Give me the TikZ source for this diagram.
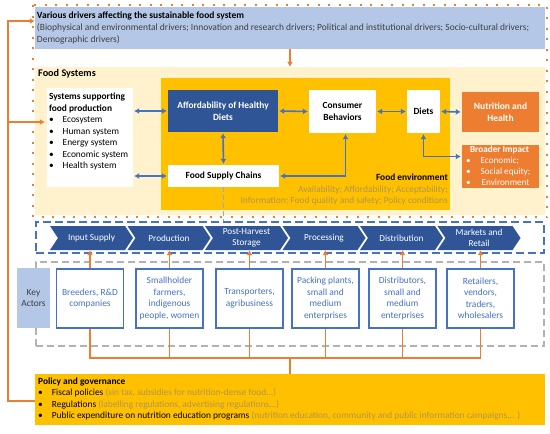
\documentclass[tikz,border=0pt]{standalone}
\usepackage{fontspec}
\setmainfont{Carlito}
\usetikzlibrary{shapes.symbols,arrows.meta}
\definecolor{dblue}{HTML}{2F5597}
\definecolor{mblue}{HTML}{4472C4}
\definecolor{lblue}{HTML}{B4C7E7}
\definecolor{gold}{HTML}{FFC000}
\definecolor{cream}{HTML}{FFF2CC}
\definecolor{orng}{HTML}{ED7D31}
\definecolor{txtgray}{HTML}{B0964E}
\definecolor{dgray}{HTML}{404040}
\newcommand{\fs}{\fontsize{9.4}{11.5}\selectfont}
\tikzset{
	box/.style={rectangle, inner sep=0pt, align=center, font=\fs},
	barrow/.style={mblue, line width=1.6pt, {Latex[length=5pt,width=6pt]}-{Latex[length=5pt,width=6pt]}, shorten <=1pt, shorten >=1pt},
	oarrow/.style={orng, line width=1.6pt, -{Latex[length=5pt,width=6pt]}},
	oline/.style={orng, line width=1.6pt},
	chev/.style={signal, signal to=east, signal from=west, signal pointer angle=113, fill=dblue, text=white, inner sep=0pt, minimum width=83pt, minimum height=24pt, align=center, font=\fontsize{9.2}{11}\selectfont},
	actor/.style={box, draw=mblue, line width=1.2pt, fill=white, text=mblue, minimum width=67pt, minimum height=59pt},
	whitebox/.style={box, fill=white, font=\fs\bfseries}
}
\begin{document}
\begin{tikzpicture}[x=1pt, y=-1pt]
		\useasboundingbox (0,0) rectangle (550,434);
		\node[box, fill=lblue, minimum width=510pt, minimum height=42pt] (drivers) at (290,28) {};
		\node[anchor=north west, align=left, inner sep=0pt, font=\fontsize{9.5}{12}\selectfont, text=dgray] at ([shift={(2pt,-5pt)}]drivers.north west) {\textbf{\color{black}Various drivers affecting the sustainable food system}\\(Biophysical and environmental drivers; Innovation and research drivers; Political and institutional drivers; Socio-cultural drivers;\\Demographic drivers)};
		\node[box, fill=cream, minimum width=510pt, minimum height=148pt] (foodsys) at (290,141) {};
		\node[anchor=north west, inner sep=0pt, font=\fontsize{10.2}{12}\selectfont\bfseries] at (38,69) {Food Systems};
		\draw[orng, line width=2pt, dash pattern=on 2pt off 8.5pt] (33,5) rectangle (547,217);
		\draw[oarrow] (drivers.south) -- (drivers.south |- foodsys.north);
		\node[box, fill=gold, minimum width=289pt, minimum height=132pt] (foodenv) at (305.5,144) {};
		\node[box, fill=white, minimum width=86pt, minimum height=99pt] (sys) at (90,137.5) {};
		\node[anchor=north west, align=left, inner sep=0pt, font=\fs] at ([shift={(2pt,-5pt)}]sys.north west) {\textbf{Systems supporting}\\\textbf{food production}\\\textbullet\hspace{9pt}Ecosystem\\\textbullet\hspace{9pt}Human system\\\textbullet\hspace{9pt}Energy system\\\textbullet\hspace{9pt}Economic system\\\textbullet\hspace{9pt}Health system};
		\node[box, fill=dblue, text=white, font=\fs\bfseries, minimum width=110pt, minimum height=42pt] (aff) at (223,111) {Affordability of Healthy\\Diets};
		\node[whitebox, minimum width=111pt, minimum height=22pt] (fsc) at (223.5,176) {Food Supply Chains};
		\node[whitebox, minimum width=67pt, minimum height=43pt] (cons) at (342.5,111.5) {Consumer\\Behaviors};
		\node[whitebox, minimum width=33pt, minimum height=43pt] (diets) at (423.5,111.5) {Diets};
		\node[box, fill=orng, text=white, font=\fontsize{9.5}{11.5}\selectfont\bfseries, minimum width=77pt, minimum height=40pt] (nutr) at (500.5,112) {Nutrition and\\Health};
		\node[box, fill=orng, minimum width=77pt, minimum height=43pt] (broad) at (500.5,166.5) {};
		\node[anchor=north west, align=left, inner sep=0pt, text=white, font=\fontsize{9.2}{11}\selectfont] at ([shift={(4pt,-1pt)}]broad.north west) {\hspace{4pt}\textbf{Broader Impact}\\\textbullet\hspace{10pt}Economic;\\\textbullet\hspace{10pt}Social equity;\\\textbullet\hspace{11pt}Environment};
		\node[anchor=north east, align=right, inner sep=0pt, text=txtgray, font=\fontsize{9.4}{11.3}\selectfont] at (448,174) {\textbf{\color{black}Food environment}\\Availability; Affordability; Acceptability;\\Information; Food quality and safety; Policy conditions};
		\draw[barrow] (sys.east |- aff.west) -- (aff.west);
		\draw[barrow] (sys.east |- fsc.west) -- (fsc.west);
		\draw[barrow] (aff.south) -- (fsc.north);
		\draw[barrow] (aff.east) -- (cons.west);
		\draw[barrow] (cons.east) -- (diets.west);
		\draw[barrow] (diets.east) -- (nutr.west);
		\draw[barrow] ([xshift=3pt]cons.south) |- (fsc.east);
		\draw[barrow] (diets.south) |- ([yshift=10pt]broad.west);
		\node[box, draw=mblue, line width=1.2pt, dash pattern=on 8pt off 4pt, minimum width=508pt, minimum height=31pt] (chbox) at (290,237.5) {};
		\draw[color=mblue!60, line width=1pt, dash pattern=on 5pt off 3pt] (fsc.south) -- (fsc.south |- chbox.north);
		\node[chev] (ch1) at (91.5,238) {Input Supply};
		\node[chev] (ch2) at (169,238) {Production};
		\node[chev] (ch3) at (246.5,238) {Post-Harvest\\Storage};
		\node[chev] (ch4) at (324,238) {Processing};
		\node[chev] (ch5) at (401.5,238) {Distribution};
		\node[chev] (ch6) at (479,238) {Markets and\\Retail};
		\node[box, draw=gray!60, line width=1.5pt, dash pattern=on 7pt off 4pt, minimum width=508pt, minimum height=84pt] (actbox) at (290,304) {};
		\node[box, fill=lblue, text=dgray, minimum width=33pt, minimum height=60pt] (keyact) at (33.5,298) {Key\\Actors};
		\node[actor] (act1) at (90,298.5) {Breeders, R\&D\\companies};
		\node[actor] (act2) at (169.5,298.5) {Smallholder\\farmers,\\indigenous\\people, women};
		\node[actor] (act3) at (249.5,298.5) {Transporters,\\agribusiness};
		\node[actor] (act4) at (325.5,298.5) {Packing plants,\\small and\\medium\\enterprises};
		\node[actor] (act5) at (402.5,298.5) {Distributors,\\small and\\medium\\enterprises};
		\node[actor] (act6) at (480.5,298.5) {Retailers,\\vendors,\\traders,\\wholesalers};
		\draw[oarrow] (act1.north) -- (act1.north |- ch1.south);
		\draw[oarrow] (act2.north) -- (act2.north |- ch2.south);
		\draw[oarrow] (act3.north) -- (act3.north |- ch3.south);
		\draw[oarrow] (act4.north) -- (act4.north |- ch4.south);
		\draw[oarrow] (act5.north) -- (act5.north |- ch5.south);
		\draw[oarrow] (act6.north) -- (act6.north |- ch6.south);
		\node[box, fill=gold, minimum width=510pt, minimum height=51pt] (policy) at (290,399.5) {};
		\node[anchor=north west, align=left, inner sep=0pt, font=\fontsize{9.4}{11.2}\selectfont] at (38,378) {\textbf{Policy and governance}\\\textbullet\hspace{9pt}Fiscal policies {\color{txtgray}(sin tax, subsidies for nutrition-dense food...)}\\\textbullet\hspace{9pt}Regulations {\color{txtgray}(labelling regulations, advertising regulations...)}\\\textbullet\hspace{9pt}Public expenditure on nutrition education programs {\color{txtgray}(nutrition education, community and public information campaigns... )}};
		\coordinate (bus) at (290,358);
		\draw[oline] (act1.south) -- (act1.south |- bus) -- (act6.south |- bus) -- (act6.south);
		\draw[oline] (act2.south) -- (act2.south |- bus);
		\draw[oline] (act3.south) -- (act3.south |- bus);
		\draw[oline] (act4.south) -- (act4.south |- bus);
		\draw[oline] (act5.south) -- (act5.south |- bus);
		\draw[oline] (bus) -- (policy.north);
		\coordinate (lb) at (8,401);
		\coordinate (lt) at (8,21);
		\coordinate (lm) at (8,122);
		\draw[oarrow] (policy.west |- lb) -- (lb) -- (lt) -- ([yshift=7pt]drivers.west);
		\draw[oarrow, shorten >=2pt] (lm) -- (lm -| sys.west);
		\end{tikzpicture}
\end{document}
